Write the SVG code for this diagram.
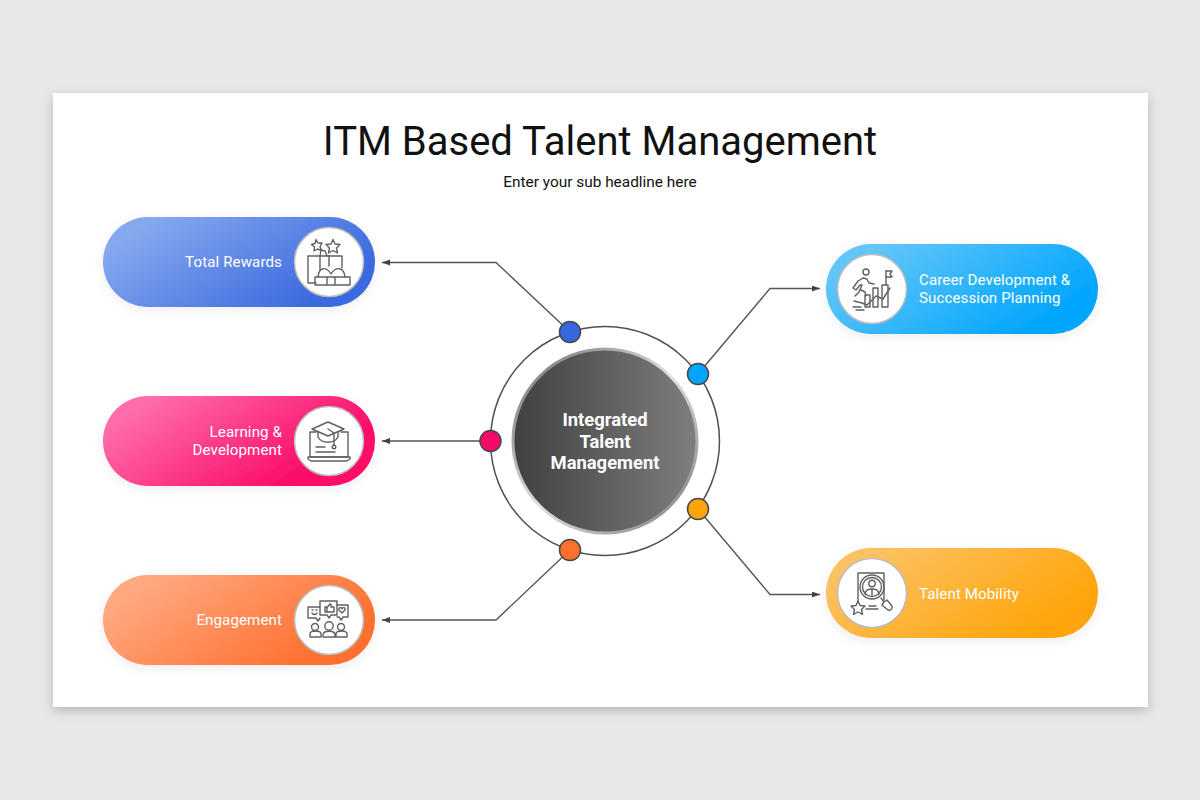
<svg xmlns="http://www.w3.org/2000/svg" width="1200" height="800" viewBox="0 0 1200 800">
<style>
text{font-family:Roboto,"Liberation Sans",sans-serif}
.lbl{fill:#fff;font-size:15.100px;letter-spacing:.1px}
.hub{font-size:18.400px;font-weight:700;fill:#fff;text-anchor:middle}
.conn{fill:none;stroke:#555;stroke-width:1.400;marker-end:url(#arr)}
.dot{stroke:#484848;stroke-width:1.500}
.ic{fill:none;stroke:#606060;stroke-width:1.400;stroke-linejoin:round;stroke-linecap:round}
.disc{fill:#fff;stroke:#bdbdbd;stroke-width:1.500}
</style>
<defs>
<marker id="arr" markerUnits="userSpaceOnUse" markerWidth="10" markerHeight="8" refX="8" refY="3" orient="auto"><path d="M0 0L8 3L0 6Z" fill="#444"/></marker>
<filter id="cardS" x="-5%" y="-5%" width="110%" height="112%"><feDropShadow dx="0" dy="4" stdDeviation="6" flood-color="#000" flood-opacity=".2"/></filter>
<filter id="pillS" x="-10%" y="-20%" width="120%" height="150%"><feDropShadow dx="0" dy="3" stdDeviation="6" flood-color="#000" flood-opacity=".07"/></filter>
<linearGradient id="gBlue" x1="0" y1=".25" x2="1" y2=".75"><stop offset=".05" stop-color="#86A9EE"/><stop offset=".9" stop-color="#3B69DF"/></linearGradient>
<linearGradient id="gPink" x1="0" y1=".25" x2="1" y2=".75"><stop offset=".05" stop-color="#FF6CAB"/><stop offset=".85" stop-color="#FB0A68"/></linearGradient>
<linearGradient id="gOrange" x1="0" y1=".25" x2="1" y2=".75"><stop offset=".05" stop-color="#FFA981"/><stop offset=".9" stop-color="#FF6F2E"/></linearGradient>
<linearGradient id="gSky" x1="0" y1=".25" x2="1" y2=".75"><stop offset=".05" stop-color="#63C6F8"/><stop offset=".9" stop-color="#00A5FD"/></linearGradient>
<linearGradient id="gAmber" x1="0" y1=".25" x2="1" y2=".75"><stop offset=".05" stop-color="#FBC263"/><stop offset=".9" stop-color="#FFA409"/></linearGradient>
<linearGradient id="gCore" x1="0" y1="0" x2="1" y2="0"><stop offset="0" stop-color="#404040"/><stop offset="1" stop-color="#7E7E7E"/></linearGradient>
<linearGradient id="gEdge" x1="0" y1="0" x2="1" y2="1"><stop offset="0" stop-color="#6a6a6a"/><stop offset=".5" stop-color="#e2e2e2"/><stop offset="1" stop-color="#777"/></linearGradient>
</defs>
<rect width="1200" height="800" fill="#E9E8E9"/>
<rect x="53" y="93" width="1095" height="614" fill="#fff" filter="url(#cardS)"/>
<text x="600" y="155" text-anchor="middle" font-size="40" fill="#111">ITM Based Talent Management</text>
<text x="600" y="187" text-anchor="middle" font-size="15.400" fill="#111">Enter your sub headline here</text>

<g id="connectors">
<path class="conn" d="M570 332L496 262.500H382"/>
<path class="conn" d="M490 441H382"/>
<path class="conn" d="M570 550L496 620H382"/>
<path class="conn" d="M698 374L770 288.500H820"/>
<path class="conn" d="M698 509L770 594.500H820"/>
</g>

<g id="hub-node">
<circle cx="605" cy="441" r="114.500" fill="none" stroke="#505050" stroke-width="1.500"/>
<circle cx="605" cy="441" r="92" fill="url(#gCore)" stroke="url(#gEdge)" stroke-width="3"/>
<text class="hub" x="605" y="426">Integrated</text>
<text class="hub" x="605" y="448">Talent</text>
<text class="hub" x="605" y="469">Management</text>
<circle class="dot" cx="570" cy="332" r="10.500" fill="#3568DF"/>
<circle class="dot" cx="490.500" cy="441" r="10.500" fill="#F60A68"/>
<circle class="dot" cx="570" cy="550" r="10.500" fill="#FF6F2E"/>
<circle class="dot" cx="698" cy="374" r="10.500" fill="#00A5FD"/>
<circle class="dot" cx="698" cy="509" r="10.500" fill="#FFA409"/>
</g>

<g id="total-rewards">
<rect x="103" y="217" width="272" height="90" rx="45" fill="url(#gBlue)" filter="url(#pillS)"/>
<circle class="disc" cx="329" cy="262" r="34.500"/>
<text class="lbl" x="282" y="267" text-anchor="end">Total Rewards</text>
<g class="ic">
<path d="M342 256H308V283H316M342 256V268"/>
<path d="M320 256V270M329 256V266"/>
<path d="M320 256L321 250L325 251L327 256"/>
<path d="M318 277C319 267 326 266 331 274C336 266 344 267 345 277"/>
<path d="M315 277H350V285H315ZM327 277V285M335 277V285"/>
<path d="M316 239.500L318 243L322 243L320 246.500L321.500 250.500L317.500 249L314 251L314.500 247L311.500 244.500L315 243.500Z"/>
<path d="M333 239.500L335 244L340 244.500L336.500 248L337.500 253L333 250.500L328.500 253L329.500 248L326 244.500L331 244Z"/>
</g>
</g>

<g id="learning-development">
<rect x="103" y="396" width="272" height="90" rx="45" fill="url(#gPink)" filter="url(#pillS)"/>
<circle class="disc" cx="329" cy="441" r="34.500"/>
<text class="lbl" x="282" y="437" text-anchor="end">Learning &amp;</text>
<text class="lbl" x="282" y="455" text-anchor="end">Development</text>
<g class="ic">
<path d="M316 432H310V457H348V432H341"/>
<path d="M308 457H350V459L347 461H311L308 459Z"/>
<path d="M328 422L344 429L328 436L312 429Z"/>
<path d="M318 432V437C322 444 334 444 338 437V432"/>
<path d="M328 429L334 433V445"/>
<circle cx="334" cy="447" r="1.800"/>
<path d="M316 447H325M316 452H335"/>
</g>
</g>

<g id="engagement">
<rect x="103" y="575" width="272" height="90" rx="45" fill="url(#gOrange)" filter="url(#pillS)"/>
<circle class="disc" cx="329" cy="620" r="34.500"/>
<text class="lbl" x="282" y="625" text-anchor="end">Engagement</text>
<g class="ic">
<path d="M320 607H308V618H316L318 621L320 618"/>
<path d="M320 601H337V615H331L329 618L327 615H320Z"/>
<path d="M337 605H348V617H343L341 620L339 617H337"/>
<path d="M312 610H313M316 610H317M312 613C313 615 316 615 317 613"/>
<path d="M325 607H327V612H325ZM327 607.500L330 604L331 604.500V607H334V612H327"/>
<path d="M342 613L339 610C338 607 342 607 342 609C342 607 346 607 345 610Z"/>
<circle cx="315" cy="627" r="3.500"/><circle cx="329" cy="626" r="4.200"/><circle cx="341" cy="627" r="3.500"/>
<path d="M310 637V634C310 630 321 630 321 634V637ZM323 637V635C323 630 335 630 335 635V637ZM336 637V634C336 630 347 630 347 634V637Z"/>
</g>
</g>

<g id="career-development">
<rect x="826" y="244" width="272" height="90" rx="45" fill="url(#gSky)" filter="url(#pillS)"/>
<circle class="disc" cx="872" cy="289" r="34.500"/>
<text class="lbl" x="919" y="285">Career Development &amp;</text>
<text class="lbl" x="919" y="303">Succession  Planning</text>
<g class="ic">
<circle cx="866" cy="272" r="3"/>
<path d="M863 278L858 281L853 288L856 290L860 285L862 285L859 292L855 296M863 278L867 279L869 283L874 284M861 290L865 292L866 296"/>
<path d="M865 295V307H870V295ZM873 288V307H878V288ZM882 285V307H888V285Z"/>
<path d="M886 285V271"/><path d="M886 271H892L890 274L892 277H886"/>
<path d="M854 301L862 303L867 305L876 296L883 299L890 288"/>
<path d="M853 307H861M856 310H864"/>
</g>
</g>

<g id="talent-mobility">
<rect x="826" y="548" width="272" height="90" rx="45" fill="url(#gAmber)" filter="url(#pillS)"/>
<circle class="disc" cx="872" cy="593" r="34.500"/>
<text class="lbl" x="919" y="599">Talent Mobility</text>
<g class="ic">
<path d="M858 601V573H884V600"/>
<circle cx="872" cy="587" r="12"/><circle cx="872" cy="587" r="9.500"/>
<circle cx="872" cy="583.500" r="3.200"/>
<path d="M865 594C866 589 869 589 872 589C875 589 878 589 879 594"/>
<path d="M872 589V595M869 606H876M866 609H878"/>
<path d="M858 601L860 605.500L865 606L861.500 609.500L862.500 614.500L858 612L853.500 614.500L854.500 609.500L851 606L856 605.500Z"/>
<path d="M881 598L884 602M884 602L887 600L892 606C893 609 890 611 888 610L882 605Z"/>
</g>
</g>
</svg>
